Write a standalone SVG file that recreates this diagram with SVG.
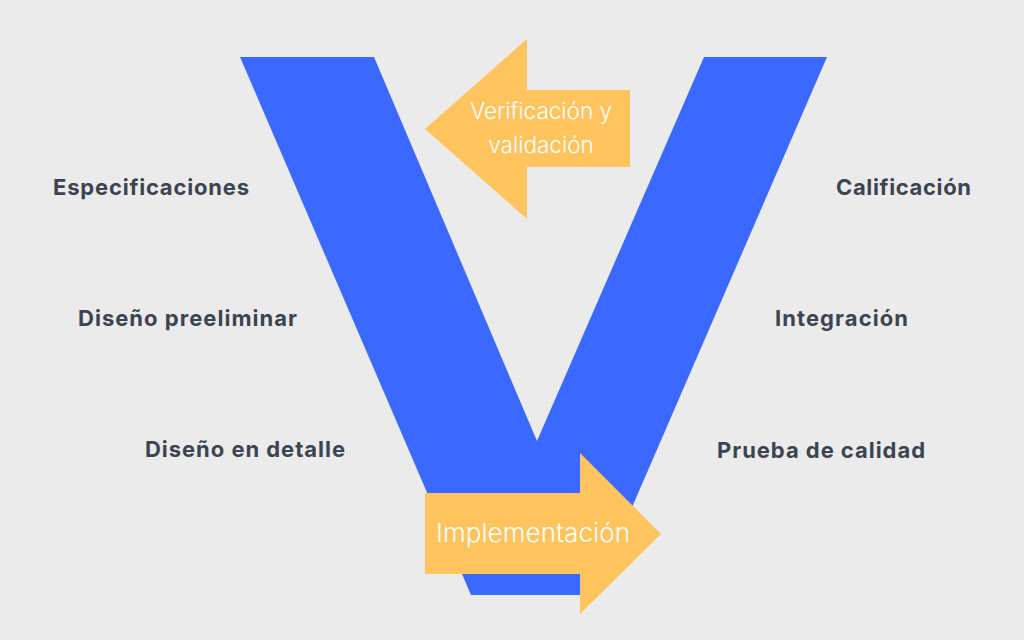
<svg xmlns="http://www.w3.org/2000/svg" width="1024" height="640" viewBox="0 0 1024 640">
<style>
.lbl{font-family:Inter,"Open Sans","Liberation Sans",sans-serif;font-weight:700;font-size:22px;fill:#3D4451;text-anchor:middle}
.atxt{font-family:Inter,"Open Sans","Liberation Sans",sans-serif;font-weight:300;fill:#FFFFFF;text-anchor:middle}
.arrow{fill:#FFC45E}
</style>
<rect width="1024" height="640" fill="#EBEBEB"/>
<g id="v-shape">
<polygon points="240,57 374,57 537,441 704,57 827,57 594,595 471,595" fill="#3B69FF"/>
</g>
<g id="verificacion">
<polygon class="arrow" points="425,129 527,39 527,90 630,90 630,167 527,167 527,219"/>
<text class="atxt" x="541" y="119" font-size="22.5">Verificación y</text>
<text class="atxt" x="541" y="153" font-size="22.5">validación</text>
</g>
<g id="implementacion">
<polygon class="arrow" points="425,493 580,493 580,453 661,534 580,614 580,574 425,574"/>
<text class="atxt" x="533" y="542" font-size="26" textLength="194" lengthAdjust="spacing">Implementación</text>
</g>
<g id="especificaciones"><text class="lbl" x="151" y="195" textLength="196" lengthAdjust="spacing">Especificaciones</text></g>
<g id="diseno-preeliminar"><text class="lbl" x="187.5" y="326" textLength="219" lengthAdjust="spacing">Diseño preeliminar</text></g>
<g id="diseno-detalle"><text class="lbl" x="245" y="457" textLength="200" lengthAdjust="spacing">Diseño en detalle</text></g>
<g id="calificacion"><text class="lbl" x="903.5" y="195" textLength="135" lengthAdjust="spacing">Calificación</text></g>
<g id="integracion"><text class="lbl" x="841.5" y="326" textLength="133" lengthAdjust="spacing">Integración</text></g>
<g id="prueba-calidad"><text class="lbl" x="821" y="458" textLength="208" lengthAdjust="spacing">Prueba de calidad</text></g>
<g id="connectors"></g>
</svg>
